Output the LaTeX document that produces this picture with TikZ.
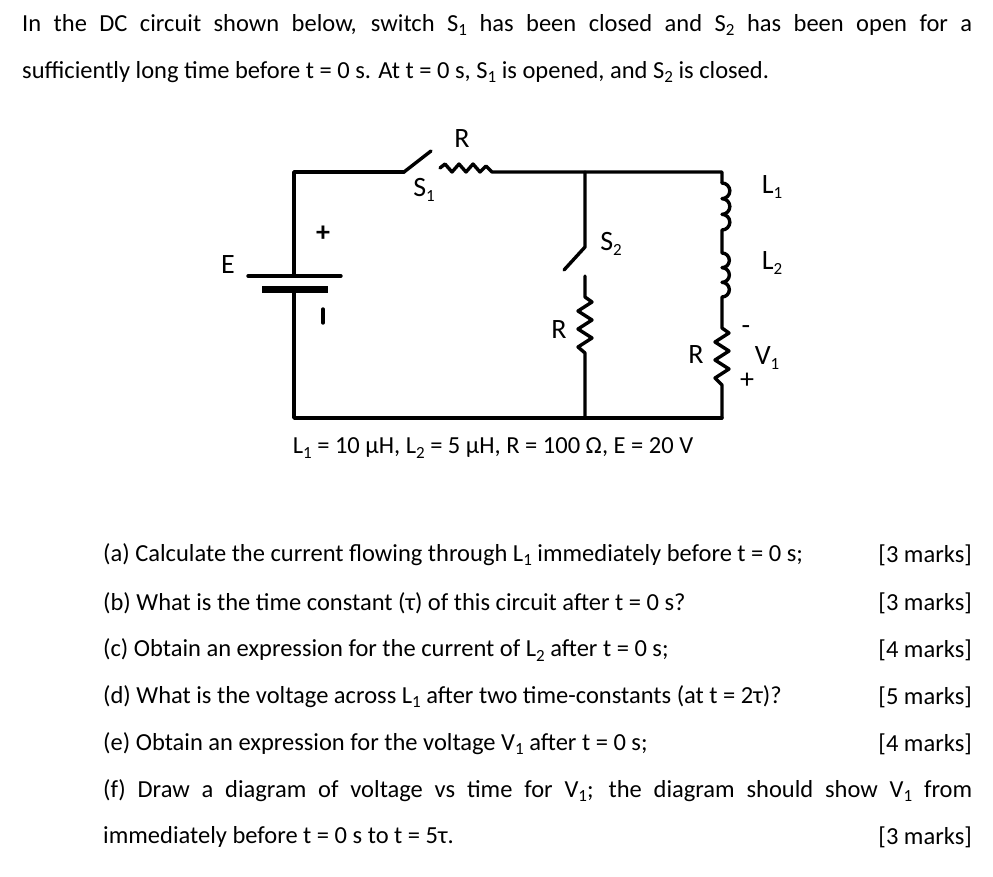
\documentclass[tikz,border=0pt]{standalone}
\usepackage{fontspec}
\setmainfont{Carlito}
\newcommand\sbs[1]{\raisebox{-0.35ex}{\fontsize{17}{17}\selectfont #1}}
\begin{document}
\begin{tikzpicture}[x=1pt,y=-1pt,
  wire/.style={line width=3.4pt,line cap=round,line join=round},
  txt/.style={font=\fontsize{24.5}{28}\selectfont,inner sep=0pt},
  lbl/.style={font=\fontsize{28}{30}\selectfont,inner sep=0pt}]
\useasboundingbox[fill=white] (0,0) rectangle (993,876);
% texts
\node[txt,anchor=west] (l1) at (22,25) {\makebox[950pt][s]{In the DC circuit shown below, switch S\sbs1 has been closed and S\sbs2 has been open for a}};
\node[txt,anchor=west] (l2) at (22,72) {sufficiently long time before t = 0 s. At t = 0 s, S\sbs1 is opened, and S\sbs2 is closed.};
\node[txt] (vals) at (493,448) {L\sbs1 = 10 μH, L\sbs2 = 5 μH, R = 100 Ω, E = 20 V};
\foreach \y/\q/\m in {555/{(a) Calculate the current flowing through L\sbs1 immediately before t = 0 s;}/{[3 marks]},
  603/{(b) What is the time constant (τ) of this circuit after t = 0 s?}/{[3 marks]},
  650/{(c) Obtain an expression for the current of L\sbs2 after t = 0 s;}/{[4 marks]},
  697/{(d) What is the voltage across L\sbs1 after two time-constants (at t = 2τ)?}/{[5 marks]},
  744/{(e) Obtain an expression for the voltage V\sbs1 after t = 0 s;}/{[4 marks]}}{
  \node[txt,anchor=west] at (103,\y) {\q};
  \node[txt,anchor=east] at (972,\y) {\m};
}
\node[txt,anchor=west] (qf) at (103,791) {\makebox[869pt][s]{(f) Draw a diagram of voltage vs time for V\sbs1; the diagram should show V\sbs1 from}};
\node[txt,anchor=west] (qf2) at (103,837) {immediately before t = 0 s to t = 5τ.};
\node[txt,anchor=east] (mf) at (972,837) {[3 marks]};
% circuit
\draw[wire] (404,172) -- (294,172) -- (294,276);
\draw[wire] (294,289) -- (294,418) -- (722,418);
\draw[wire] (404,172) -- (431,151);
\draw[wire] (440,168) -- (445,164) -- (452,172) -- (459,164) -- (466,172) -- (473,164) -- (480,172) -- (486,166) -- (492,172) -- (722,172) -- (722,183);
\draw[wire] (248,276) -- (341,276);
\draw[line width=7pt] (262,289) -- (328,289);
% middle
\draw[wire] (585,172) -- (585,247) -- (564,270);
\draw[wire] (585,276) -- (585,297) -- (592,302) -- (578,311) -- (592,320) -- (578,329) -- (592,338) -- (578,347) -- (585,353) -- (585,418);
% right branch
\draw[wire] (722,183) arc(-90:90:7.8333 and 7.8333) arc(-90:90:7.8333 and 7.8333) arc(-90:90:7.8333 and 7.8333) -- (722,253)
  arc(-90:90:7.3333 and 7.3333) arc(-90:90:7.3333 and 7.3333) arc(-90:90:7.3333 and 7.3333) -- (722,328)
  -- (729,333) -- (715,342) -- (729,351) -- (715,360) -- (729,369) -- (715,378) -- (722,385) -- (722,418);
% labels
\node[lbl] (E) at (228,265) {E};
\node[lbl] (plus) at (323,234) {\textbf{+}};
\draw[wire] (323,309) -- (323,323);
\node[lbl] (R1) at (462,139) {R};
\node[lbl] (S1) at (424,190) {S\sbs1};
\node[lbl] (S2) at (611,244) {S\sbs2};
\node[lbl] (R2) at (559,330) {R};
\node[lbl] (Lone) at (772,187) {L\sbs1};
\node[lbl] (Ltwo) at (772,263) {L\sbs2};
\node[lbl] (R3) at (696,355) {R};
\node[lbl] (mi) at (746,330) {-};
\node[lbl] (V1) at (767,358) {V\sbs1};
\node[lbl] (pl) at (747,381) {+};
\end{tikzpicture}
\end{document}
